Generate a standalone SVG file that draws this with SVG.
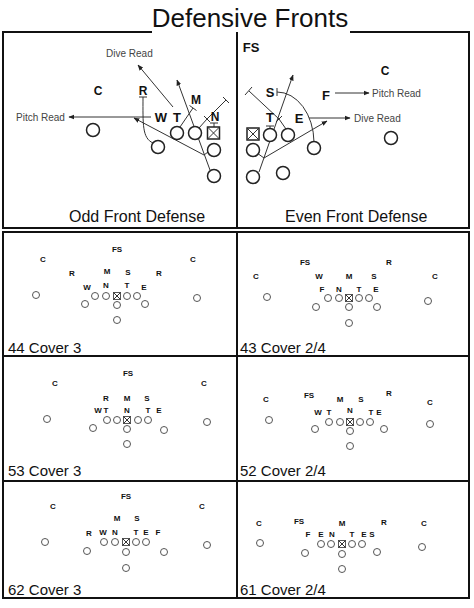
<svg xmlns="http://www.w3.org/2000/svg" width="474" height="608" viewBox="0 0 474 608">
<defs>
<marker id="ah" viewBox="0 0 10 10" refX="9" refY="5" markerWidth="6" markerHeight="6" orient="auto" markerUnits="userSpaceOnUse"><path d="M0,1 L10,5 L0,9 z" fill="#222"/></marker>
<style>
.frame{fill:none;stroke:#111;stroke-width:2}
.ln{fill:none;stroke:#333;stroke-width:1}
.big{fill:#fff;stroke:#222;stroke-width:1.5}
.sm{fill:#fff;stroke:#555;stroke-width:1}
.lbl{font-family:"Liberation Sans",Arial,sans-serif;font-weight:bold;font-size:12px;fill:#111;text-anchor:middle}
.s{font-family:"Liberation Sans",Arial,sans-serif;font-weight:bold;font-size:8px;fill:#111;text-anchor:middle}
.read{font-family:"Liberation Sans",Arial,sans-serif;font-size:10px;fill:#444}
.cap{font-family:"Liberation Sans",Arial,sans-serif;font-size:16px;fill:#111}
.cov{font-family:"Liberation Sans",Arial,sans-serif;font-size:15px;fill:#111}
.title{font-family:"Liberation Sans",Arial,sans-serif;font-size:26px;fill:#111;text-anchor:middle}
</style>
</defs>

<g id="frames">
<polyline class="frame" points="152,32 3,32 3,228 469,228 469,32 350,32"/>
<line class="frame" x1="237" y1="32" x2="237" y2="228"/>
<rect class="frame" x="3" y="232" width="466" height="366"/>
<line class="frame" x1="237" y1="232" x2="237" y2="598"/>
<line class="frame" x1="3" y1="356" x2="469" y2="356"/>
<line class="frame" x1="3" y1="481" x2="469" y2="481"/>
</g>

<text id="title" class="title" x="250" y="27">Defensive Fronts</text>

<g id="connectors">
<!-- odd front -->
<line class="ln" x1="173" y1="107" x2="138" y2="65" marker-end="url(#ah)"/>
<line class="ln" x1="151" y1="117" x2="69" y2="117" marker-end="url(#ah)"/>
<line class="ln" x1="139" y1="97" x2="147" y2="97"/>
<path class="ln" d="M143,97 C143,124 142,138 153,143"/>
<line class="ln" x1="180" y1="127" x2="193" y2="108"/>
<line class="ln" x1="189.5" y1="105.5" x2="196.5" y2="110.5"/>
<polyline class="ln" points="199,128 207,119 226,100"/>
<line class="ln" x1="204" y1="116" x2="210" y2="122"/>
<line class="ln" x1="223" y1="97" x2="229" y2="103"/>
<line class="ln" x1="214" y1="127" x2="214" y2="123"/>
<line class="ln" x1="210" y1="123" x2="218" y2="123"/>
<polyline class="ln" points="208,152 204,155 134,118" marker-end="url(#ah)"/>
<line class="ln" x1="210" y1="170" x2="177" y2="80" marker-end="url(#ah)"/>
<!-- even front -->
<line class="ln" x1="335" y1="93" x2="369" y2="93" marker-end="url(#ah)"/>
<line class="ln" x1="309" y1="118" x2="350" y2="118" marker-end="url(#ah)"/>
<path class="ln" d="M277,92 A37,51 0 0 1 314,142"/>
<line class="ln" x1="277" y1="88" x2="277" y2="96"/>
<line class="ln" x1="270" y1="129" x2="270" y2="126"/>
<line class="ln" x1="266" y1="126" x2="274" y2="126"/>
<polyline class="ln" points="286,129 279,119 249,91"/>
<line class="ln" x1="276" y1="122" x2="282" y2="116"/>
<line class="ln" x1="245" y1="95" x2="252" y2="87"/>
<polyline class="ln" points="257,153 264,158 327,121" marker-end="url(#ah)"/>
<line class="ln" x1="259" y1="172" x2="293" y2="75" marker-end="url(#ah)"/>
</g>

<g id="odd-front">
<text class="read" x="106" y="57">Dive Read</text>
<text class="read" x="16" y="121">Pitch Read</text>
<text class="lbl" x="98" y="95">C</text>
<text class="lbl" x="143" y="95">R</text>
<text class="lbl" x="161" y="122" style="font-size:13px">W</text>
<text class="lbl" x="177" y="122" style="font-size:13px">T</text>
<text class="lbl" x="196" y="104">M</text>
<text class="lbl" x="215" y="121">N</text>
<circle class="big" cx="93" cy="130" r="6.5"/>
<circle class="big" cx="158" cy="147" r="6.5"/>
<circle class="big" cx="177" cy="133" r="6.5"/>
<circle class="big" cx="195" cy="133" r="6.5"/>
<g><rect class="big" x="207.5" y="127" width="12" height="12"/><path class="ln" d="M207.5,127 L219.5,139 M219.5,127 L207.5,139"/></g>
<circle class="big" cx="214" cy="150" r="6.5"/>
<circle class="big" cx="214" cy="176" r="6.5"/>
<text class="cap" x="69" y="222">Odd Front Defense</text>
</g>

<g id="even-front">
<text class="lbl" x="251" y="52" style="font-size:13px">FS</text>
<text class="lbl" x="385" y="75">C</text>
<text class="lbl" x="270" y="97" style="font-size:13px">S</text>
<text class="lbl" x="326" y="100" style="font-size:13px">F</text>
<text class="lbl" x="270" y="122" style="font-size:13px">T</text>
<text class="lbl" x="299" y="123" style="font-size:13px">E</text>
<text class="read" x="372" y="97">Pitch Read</text>
<text class="read" x="354" y="122">Dive Read</text>
<g><rect class="big" x="247" y="128" width="12" height="12"/><path class="ln" d="M247,128 L259,140 M259,128 L247,140"/></g>
<circle class="big" cx="270" cy="135" r="6.5"/>
<circle class="big" cx="288" cy="135" r="6.5"/>
<circle class="big" cx="253" cy="150" r="6.5"/>
<circle class="big" cx="314" cy="148" r="6.5"/>
<circle class="big" cx="391" cy="138" r="6.5"/>
<circle class="big" cx="253" cy="177" r="6.5"/>
<circle class="big" cx="283" cy="173" r="6.5"/>
<text class="cap" x="285" y="222">Even Front Defense</text>
</g>

<g id="f44">
<text class="s" x="117" y="252">FS</text>
<text class="s" x="43" y="262">C</text>
<text class="s" x="193" y="262">C</text>
<text class="s" x="72" y="276">R</text>
<text class="s" x="107" y="274">M</text>
<text class="s" x="128" y="275">S</text>
<text class="s" x="159" y="276">R</text>
<text class="s" x="87" y="290">W</text>
<text class="s" x="106" y="288">N</text>
<text class="s" x="127" y="288">T</text>
<text class="s" x="144" y="290">E</text>
<circle class="sm" cx="36" cy="295" r="3.5"/>
<circle class="sm" cx="95" cy="296" r="3.5"/>
<circle class="sm" cx="106" cy="296" r="3.5"/>
<g><rect class="sm" x="113.5" y="292.5" width="7" height="7"/><path class="ln" d="M113.5,292.5 L120.5,299.5 M120.5,292.5 L113.5,299.5"/></g>
<circle class="sm" cx="127" cy="296" r="3.5"/>
<circle class="sm" cx="137" cy="296" r="3.5"/>
<circle class="sm" cx="197" cy="298" r="3.5"/>
<circle class="sm" cx="85" cy="304" r="3.5"/>
<circle class="sm" cx="117" cy="305" r="3.5"/>
<circle class="sm" cx="145" cy="304" r="3.5"/>
<circle class="sm" cx="117" cy="320" r="3.5"/>
<text class="cov" x="8" y="353">44 Cover 3</text>
</g>

<g id="f43">
<text class="s" x="305" y="265">FS</text>
<text class="s" x="389" y="265">R</text>
<text class="s" x="256" y="279">C</text>
<text class="s" x="319" y="279">W</text>
<text class="s" x="349" y="279">M</text>
<text class="s" x="374" y="279">S</text>
<text class="s" x="435" y="279">C</text>
<text class="s" x="322" y="292">F</text>
<text class="s" x="339" y="292">N</text>
<text class="s" x="359" y="292">T</text>
<text class="s" x="376" y="292">E</text>
<circle class="sm" cx="267" cy="297" r="3.5"/>
<circle class="sm" cx="328" cy="298" r="3.5"/>
<circle class="sm" cx="339" cy="298" r="3.5"/>
<g><rect class="sm" x="345.5" y="294.5" width="7" height="7"/><path class="ln" d="M345.5,294.5 L352.5,301.5 M352.5,294.5 L345.5,301.5"/></g>
<circle class="sm" cx="359" cy="298" r="3.5"/>
<circle class="sm" cx="369" cy="298" r="3.5"/>
<circle class="sm" cx="428" cy="301" r="3.5"/>
<circle class="sm" cx="316" cy="307" r="3.5"/>
<circle class="sm" cx="349" cy="307" r="3.5"/>
<circle class="sm" cx="377" cy="307" r="3.5"/>
<circle class="sm" cx="349" cy="323" r="3.5"/>
<text class="cov" x="240" y="353">43 Cover 2/4</text>
</g>

<g id="f53">
<text class="s" x="128" y="376">FS</text>
<text class="s" x="55" y="386">C</text>
<text class="s" x="204" y="386">C</text>
<text class="s" x="106" y="401">R</text>
<text class="s" x="127" y="401">M</text>
<text class="s" x="147" y="401">S</text>
<text class="s" x="98" y="413">W</text>
<text class="s" x="106" y="413">T</text>
<text class="s" x="127" y="413">N</text>
<text class="s" x="148" y="413">T</text>
<text class="s" x="159" y="413">E</text>
<circle class="sm" cx="47" cy="419" r="3.5"/>
<circle class="sm" cx="107" cy="420" r="3.5"/>
<circle class="sm" cx="117" cy="420" r="3.5"/>
<g><rect class="sm" x="123.5" y="416.5" width="7" height="7"/><path class="ln" d="M123.5,416.5 L130.5,423.5 M130.5,416.5 L123.5,423.5"/></g>
<circle class="sm" cx="138" cy="420" r="3.5"/>
<circle class="sm" cx="148" cy="420" r="3.5"/>
<circle class="sm" cx="207" cy="422" r="3.5"/>
<circle class="sm" cx="93" cy="428" r="3.5"/>
<circle class="sm" cx="127" cy="429" r="3.5"/>
<circle class="sm" cx="164" cy="430" r="3.5"/>
<circle class="sm" cx="127" cy="444" r="3.5"/>
<text class="cov" x="8" y="476">53 Cover 3</text>
</g>

<g id="f52">
<text class="s" x="309" y="398">FS</text>
<text class="s" x="389" y="396">R</text>
<text class="s" x="266" y="402">C</text>
<text class="s" x="340" y="402">M</text>
<text class="s" x="361" y="402">S</text>
<text class="s" x="430" y="405">C</text>
<text class="s" x="318" y="415">W</text>
<text class="s" x="329" y="415">T</text>
<text class="s" x="350" y="413">N</text>
<text class="s" x="371" y="415">T</text>
<text class="s" x="379" y="415">E</text>
<circle class="sm" cx="269" cy="420" r="3.5"/>
<circle class="sm" cx="329" cy="422" r="3.5"/>
<circle class="sm" cx="340" cy="422" r="3.5"/>
<g><rect class="sm" x="346.5" y="418.5" width="7" height="7"/><path class="ln" d="M346.5,418.5 L353.5,425.5 M353.5,418.5 L346.5,425.5"/></g>
<circle class="sm" cx="360" cy="422" r="3.5"/>
<circle class="sm" cx="370" cy="422" r="3.5"/>
<circle class="sm" cx="430" cy="424" r="3.5"/>
<circle class="sm" cx="315" cy="429" r="3.5"/>
<circle class="sm" cx="350" cy="431" r="3.5"/>
<circle class="sm" cx="384" cy="429" r="3.5"/>
<circle class="sm" cx="350" cy="446" r="3.5"/>
<text class="cov" x="240" y="476">52 Cover 2/4</text>
</g>

<g id="f62">
<text class="s" x="126" y="499">FS</text>
<text class="s" x="53" y="509">C</text>
<text class="s" x="202" y="509">C</text>
<text class="s" x="117" y="521">M</text>
<text class="s" x="137" y="521">S</text>
<text class="s" x="89" y="536">R</text>
<text class="s" x="103" y="535">W</text>
<text class="s" x="115" y="535">N</text>
<text class="s" x="136" y="535">T</text>
<text class="s" x="146" y="535">E</text>
<text class="s" x="158" y="535">F</text>
<circle class="sm" cx="45" cy="542" r="3.5"/>
<circle class="sm" cx="104" cy="542" r="3.5"/>
<circle class="sm" cx="115" cy="542" r="3.5"/>
<g><rect class="sm" x="122.5" y="538.5" width="7" height="7"/><path class="ln" d="M122.5,538.5 L129.5,545.5 M129.5,538.5 L122.5,545.5"/></g>
<circle class="sm" cx="136" cy="542" r="3.5"/>
<circle class="sm" cx="146" cy="542" r="3.5"/>
<circle class="sm" cx="207" cy="545" r="3.5"/>
<circle class="sm" cx="87" cy="551" r="3.5"/>
<circle class="sm" cx="126" cy="552" r="3.5"/>
<circle class="sm" cx="164" cy="552" r="3.5"/>
<circle class="sm" cx="126" cy="568" r="3.5"/>
<text class="cov" x="8" y="595">62 Cover 3</text>
</g>

<g id="f61">
<text class="s" x="299" y="524">FS</text>
<text class="s" x="342" y="526">M</text>
<text class="s" x="384" y="525">R</text>
<text class="s" x="259" y="526">C</text>
<text class="s" x="424" y="526">C</text>
<text class="s" x="308" y="537">F</text>
<text class="s" x="321" y="537">E</text>
<text class="s" x="332" y="537">N</text>
<text class="s" x="352" y="537">T</text>
<text class="s" x="364" y="537">E</text>
<text class="s" x="372" y="537">S</text>
<circle class="sm" cx="260" cy="543" r="3.5"/>
<circle class="sm" cx="321" cy="544" r="3.5"/>
<circle class="sm" cx="331" cy="544" r="3.5"/>
<g><rect class="sm" x="338.5" y="540.5" width="7" height="7"/><path class="ln" d="M338.5,540.5 L345.5,547.5 M345.5,540.5 L338.5,547.5"/></g>
<circle class="sm" cx="352" cy="544" r="3.5"/>
<circle class="sm" cx="362" cy="544" r="3.5"/>
<circle class="sm" cx="422" cy="547" r="3.5"/>
<circle class="sm" cx="305" cy="553" r="3.5"/>
<circle class="sm" cx="342" cy="554" r="3.5"/>
<circle class="sm" cx="377" cy="552" r="3.5"/>
<circle class="sm" cx="342" cy="569" r="3.5"/>
<text class="cov" x="240" y="595">61 Cover 2/4</text>
</g>
</svg>
